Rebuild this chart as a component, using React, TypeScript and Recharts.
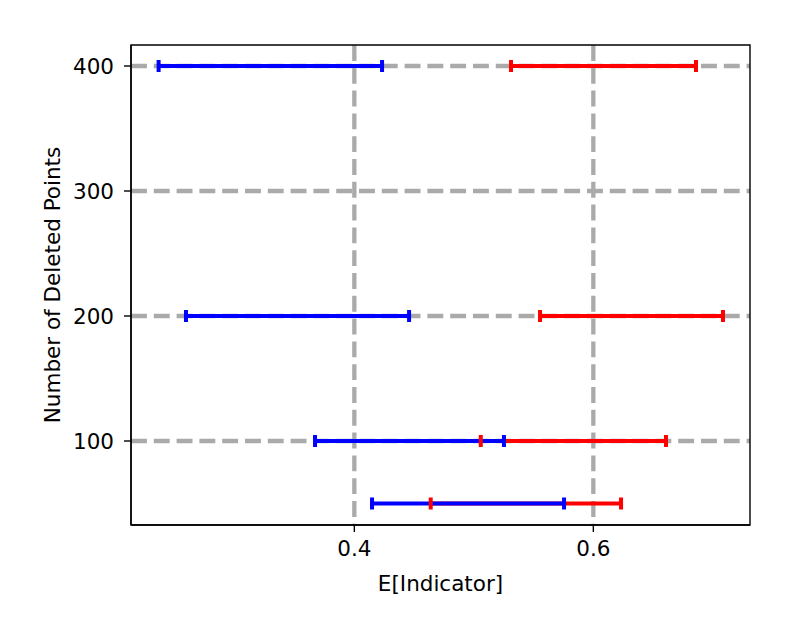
import * as React from "react";
import { CartesianGrid, ComposedChart, Line, ReferenceArea, Scatter, XAxis, YAxis } from "recharts";

// rows on the y axis
const deletedPoints = [50, 100, 200, 400];
// interval ends for each row
const blueLow = [0.4148, 0.3671, 0.2591, 0.2362];
const blueHigh = [0.5755, 0.5252, 0.4458, 0.4232];
const redLow = [0.4639, 0.5058, 0.5554, 0.5311];
const redHigh = [0.6232, 0.6608, 0.7085, 0.6859];
const xTicks = [0.4, 0.6];
const yTicks = [100, 200, 300, 400];

const X_DOMAIN: [number, number] = [0.2131, 0.7311];
const Y_DOMAIN: [number, number] = [32.8, 416.8];
const FONT = "DejaVu Sans, sans-serif";
const FS = 21.5;

const segments = (lo: number[], hi: number[]) =>
  deletedPoints.map((y, i) => [
    { x: lo[i], y },
    { x: hi[i], y },
  ]);

const capPoints = (lo: number[], hi: number[]) =>
  deletedPoints.flatMap((y, i) => [
    { x: lo[i], y },
    { x: hi[i], y },
  ]);

const Cap = (props: any) => {
  const { cx, cy, fill } = props;
  if (cx == null || cy == null) return null;
  return <rect x={cx - 2} y={cy - 6} width={4} height={12} fill={fill} />;
};

const XTitle = (props: any) => {
  const { viewBox } = props;
  return (
    <text
      x={viewBox.x + viewBox.width / 2}
      y={viewBox.y + 66}
      textAnchor="middle"
      fill="#000"
      fontSize={FS}
      fontFamily={FONT}
    >
      E[Indicator]
    </text>
  );
};

const YTitle = (props: any) => {
  const { viewBox } = props;
  const cx = viewBox.x + 60;
  const cy = viewBox.y + viewBox.height / 2;
  return (
    <text
      x={cx}
      y={cy}
      transform={`rotate(-90 ${cx} ${cy})`}
      textAnchor="middle"
      fill="#000"
      fontSize={FS}
      fontFamily={FONT}
    >
      Number of Deleted Points
    </text>
  );
};

const scaleOf = (axis: any) => {
  const s = axis?.scale;
  return typeof s === "function" ? s : s?.map ? (v: number) => s.map(v) : null;
};

export default function App() {
  const tickStyle = { fill: "#000", fontSize: FS, fontFamily: FONT };
  const axisStroke = { stroke: "#000", strokeWidth: 1.4 };
  return (
    <div style={{ position: "absolute", left: 0, top: 0, background: "#fff" }}>
      <ComposedChart
        width={794}
        height={637}
        margin={{ top: 45, right: 44, bottom: 0, left: 0 }}
      >
        <CartesianGrid
          stroke="#aaaaaa"
          strokeWidth={4.3}
          strokeDasharray="15.9 6.9"
          horizontalCoordinatesGenerator={(p: any) => {
            const s = scaleOf(p.yAxis);
            return s ? yTicks.map((t) => s(t)) : [];
          }}
          verticalCoordinatesGenerator={(p: any) => {
            const s = scaleOf(p.xAxis);
            return s ? xTicks.map((t) => s(t)) : [];
          }}
        />
        <XAxis
          type="number"
          dataKey="x"
          domain={X_DOMAIN}
          ticks={xTicks}
          allowDataOverflow
          height={112}
          tickSize={7}
          tickMargin={9}
          tick={tickStyle}
          axisLine={axisStroke}
          tickLine={axisStroke}
          tickFormatter={(v: number) => v.toFixed(1)}
          label={<XTitle />}
        />
        <YAxis
          type="number"
          dataKey="y"
          domain={Y_DOMAIN}
          ticks={yTicks}
          allowDataOverflow
          width={131}
          tickSize={7}
          tickMargin={10}
          tick={tickStyle}
          axisLine={axisStroke}
          tickLine={axisStroke}
          label={<YTitle />}
        />
        {/* frame around the plot area */}
        <ReferenceArea
          x1={X_DOMAIN[0]}
          x2={X_DOMAIN[1]}
          y1={Y_DOMAIN[0]}
          y2={Y_DOMAIN[1]}
          fill="none"
          fillOpacity={0}
          stroke="#000"
          strokeWidth={1.4}
          strokeOpacity={1}
          ifOverflow="extendDomain"
        />
        {segments(redLow, redHigh).map((d, i) => (
          <Line
            key={`r${i}`}
            data={d}
            dataKey="y"
            stroke="#ff0000"
            strokeWidth={4}
            dot={false}
            activeDot={false}
            isAnimationActive={false}
          />
        ))}
        {segments(blueLow, blueHigh).map((d, i) => (
          <Line
            key={`b${i}`}
            data={d}
            dataKey="y"
            stroke="#0000ff"
            strokeWidth={4}
            dot={false}
            activeDot={false}
            isAnimationActive={false}
          />
        ))}
        <Scatter
          data={capPoints(redLow, redHigh)}
          dataKey="y"
          fill="#ff0000"
          shape={<Cap />}
          isAnimationActive={false}
        />
        <Scatter
          data={capPoints(blueLow, blueHigh)}
          dataKey="y"
          fill="#0000ff"
          shape={<Cap />}
          isAnimationActive={false}
        />
      </ComposedChart>
    </div>
  );
}
